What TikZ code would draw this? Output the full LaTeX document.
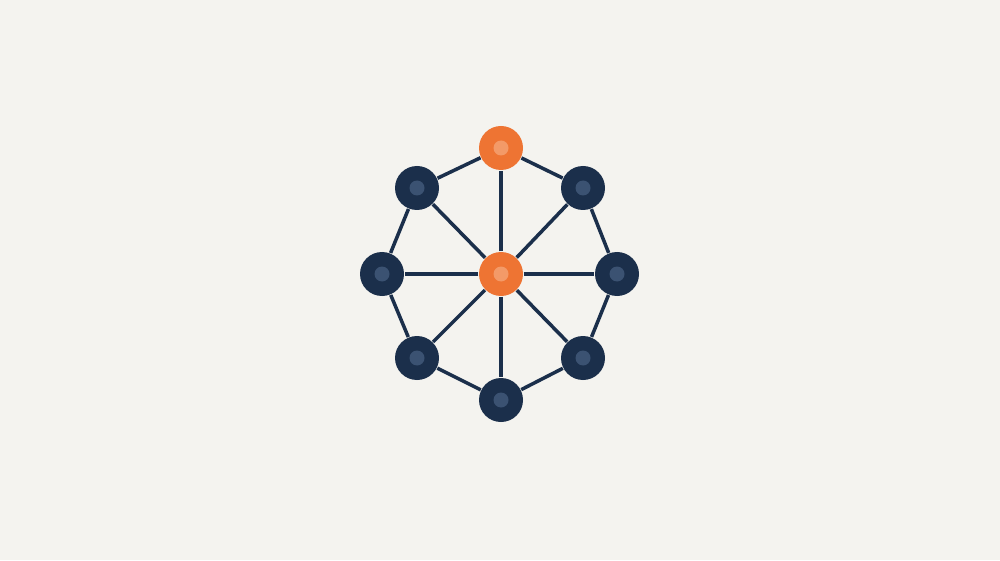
\documentclass[tikz,border=0pt]{standalone}
\usepackage{tikz}
\definecolor{paper}{HTML}{F4F3EF}
\definecolor{navy}{HTML}{1B2F4B}
\definecolor{navylight}{HTML}{3B5272}
\definecolor{hub}{HTML}{EE7433}
\definecolor{hublight}{HTML}{F39A68}
\tikzset{
	peer/.style={circle,fill=navy,minimum size=0.44cm,inner sep=0pt},
	core/.style={circle,fill=hub,minimum size=0.44cm,inner sep=0pt},
	link/.style={navy,line width=1pt}
}

\begin{document}
\begin{tikzpicture}
	\fill [paper] (0,0) rectangle (10,5.6);
	\useasboundingbox (0,0) rectangle (10,5.6);
	% nodes
	\node [core] (c) at (5.01,2.86) {};
	\node [core] (t) at (5.01,4.12) {};
	\node [peer] (ul) at (4.17,3.72) {};
	\node [peer] (ur) at (5.83,3.72) {};
	\node [peer] (l) at (3.82,2.86) {};
	\node [peer] (r) at (6.17,2.86) {};
	\node [peer] (ll) at (4.17,2.02) {};
	\node [peer] (lr) at (5.83,2.02) {};
	\node [peer] (b) at (5.01,1.60) {};
	% links
	\foreach \a/\b in {t/ul,ul/l,l/ll,ll/b,b/lr,lr/r,r/ur,ur/t}{
		\draw [link] (\a) -- (\b);
	}
	\foreach \x in {t,ul,ur,l,r,ll,lr,b}{
		\draw [link] (c) -- (\x);
	}
	% lighter dot in each node
	\foreach \x in {ul,ur,l,r,ll,lr,b}{
		\fill [navylight] (\x) circle (0.075);
	}
	\foreach \x in {c,t}{
		\fill [hublight] (\x) circle (0.075);
	}
\end{tikzpicture}
\end{document}
